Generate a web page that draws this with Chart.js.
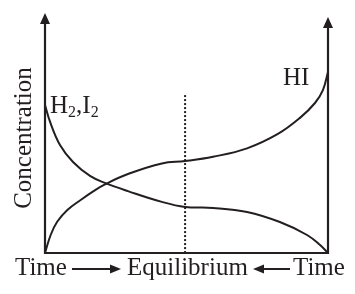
<!DOCTYPE html>
<html>
<head>
<meta charset="utf-8">
<script src="https://cdn.jsdelivr.net/npm/chart.js@4"></script>
<style>
  body { margin: 0; background: #fff; }
  canvas { display: block; }
</style>
</head>
<body>
<canvas id="grafico" width="355" height="294"></canvas>
<script>
// curva HI (producto), tiempo 0..100, concentracion 0..100
var hiTiempo = [0, 2.0, 4.3, 7.9, 12.6, 17.3, 21.2, 29.3, 41.3, 49.5, 59.4, 71.4, 82.3, 90.1, 95.4, 98.2, 100];
var hiConc = [0, 7.5, 13.0, 17.9, 22.1, 25.9, 28.6, 32.9, 37.3, 38.3, 40.1, 43.6, 49.6, 56.3, 62.5, 67.9, 75.4];

// curva H2,I2 (reactivos)
var reacTiempo = [0, 1.8, 5.3, 9.9, 15.9, 21.2, 29.3, 41.3, 49.5, 59.4, 71.4, 83.0, 92.6, 97.2, 100];
var reacConc = [61.7, 54.6, 45.0, 37.9, 32.1, 29.2, 25.8, 21.3, 19.2, 18.8, 17.1, 12.9, 7.5, 3.3, 0];

// linea punteada del equilibrio
var equilibrioTiempo = 49.5;
var equilibrioAlto = 65.8;

var etiquetas = { eje: 'Concentration', tiempo: 'Time', equilibrio: 'Equilibrium', hi: 'HI' };

var tinta = '#231f20';
var fuente = '"Liberation Serif", "Times New Roman", serif';

function puntos(xs, ys) {
    return xs.map(function (x, i) { return { x: x, y: ys[i] }; });
}

function flecha(ctx, x, y, dir) {
    // dir: 'up', 'right', 'left'
    ctx.beginPath();
    if (dir === 'up') {
        ctx.moveTo(x, y);
        ctx.lineTo(x - 5, y + 11);
        ctx.lineTo(x + 5, y + 11);
    } else if (dir === 'right') {
        ctx.moveTo(x, y);
        ctx.lineTo(x - 11, y - 4.5);
        ctx.lineTo(x - 11, y + 4.5);
    } else {
        ctx.moveTo(x, y);
        ctx.lineTo(x + 11, y - 4.5);
        ctx.lineTo(x + 11, y + 4.5);
    }
    ctx.closePath();
    ctx.fill();
}

var ejesPlugin = {
    id: 'ejes',
    afterDatasetsDraw: function (chart) {
        var ctx = chart.ctx;
        var xs = chart.scales.x, ys = chart.scales.y;
        var x0 = xs.getPixelForValue(0), x1 = xs.getPixelForValue(100);
        var y0 = ys.getPixelForValue(0);
        ctx.save();
        ctx.strokeStyle = tinta;
        ctx.fillStyle = tinta;
        ctx.lineWidth = 2.2;

        // eje izquierdo
        ctx.beginPath();
        ctx.moveTo(x0, y0 + 1);
        ctx.lineTo(x0, ys.getPixelForValue(100) + 8);
        ctx.stroke();
        flecha(ctx, x0, ys.getPixelForValue(100), 'up');

        // eje derecho
        ctx.beginPath();
        ctx.moveTo(x1, y0 + 1);
        ctx.lineTo(x1, ys.getPixelForValue(98.3) + 8);
        ctx.stroke();
        flecha(ctx, x1, ys.getPixelForValue(98.3), 'up');

        // eje inferior
        ctx.beginPath();
        ctx.moveTo(x0, y0);
        ctx.lineTo(x1, y0);
        ctx.stroke();

        // textos
        ctx.textBaseline = 'alphabetic';
        ctx.font = '25px ' + fuente;
        var base = y0 + 22;
        ctx.textAlign = 'left';
        ctx.fillText(etiquetas.tiempo, 15, base);
        ctx.fillText(etiquetas.equilibrio, 127, base);
        ctx.fillText(etiquetas.tiempo, 293, base);

        // flechas del texto inferior
        ctx.lineWidth = 2;
        ctx.beginPath();
        ctx.moveTo(72, base - 6);
        ctx.lineTo(112, base - 6);
        ctx.stroke();
        flecha(ctx, 121, base - 6, 'right');
        ctx.beginPath();
        ctx.moveTo(262, base - 6);
        ctx.lineTo(290, base - 6);
        ctx.stroke();
        flecha(ctx, 253, base - 6, 'left');

        // Concentration (vertical)
        ctx.save();
        ctx.translate(31, 138);
        ctx.rotate(-Math.PI / 2);
        ctx.textAlign = 'center';
        ctx.font = '25px ' + fuente;
        ctx.fillText(etiquetas.eje, 0, 0);
        ctx.restore();

        // H2,I2
        var px = 50, py = 113;
        ctx.textAlign = 'left';
        ctx.font = '25px ' + fuente;
        ctx.fillText('H', px, py); px += ctx.measureText('H').width;
        ctx.font = '16px ' + fuente;
        ctx.fillText('2', px, py + 4); px += ctx.measureText('2').width;
        ctx.font = '25px ' + fuente;
        ctx.fillText(',', px, py); px += ctx.measureText(',').width;
        ctx.fillText('I', px, py); px += ctx.measureText('I').width;
        ctx.font = '16px ' + fuente;
        ctx.fillText('2', px, py + 4);

        // HI
        ctx.font = '25px ' + fuente;
        ctx.fillText(etiquetas.hi, 283, 85);
        ctx.restore();
    }
};

var grafico = new Chart(document.getElementById('grafico'), {
    type: 'scatter',
    data: {
        datasets: [{
            label: 'H2,I2',
            data: puntos(reacTiempo, reacConc),
            showLine: true,
            borderColor: tinta,
            borderWidth: 2,
            pointRadius: 0,
            tension: 0.4,
            clip: false
        }, {
            label: 'HI',
            data: puntos(hiTiempo, hiConc),
            showLine: true,
            borderColor: tinta,
            borderWidth: 2,
            pointRadius: 0,
            tension: 0.4,
            clip: false
        }, {
            label: 'Equilibrium',
            data: [{ x: equilibrioTiempo, y: equilibrioAlto }, { x: equilibrioTiempo, y: 0 }],
            showLine: true,
            borderColor: tinta,
            borderWidth: 2,
            borderDash: [2, 2],
            pointRadius: 0,
            clip: false
        }]
    },
    options: {
        responsive: false,
        animation: false,
        layout: { padding: { left: 45, right: 27, top: 13, bottom: 41 } },
        plugins: { legend: { display: false }, tooltip: { enabled: false } },
        scales: {
            x: { type: 'linear', min: 0, max: 100, display: false },
            y: { min: 0, max: 100, display: false }
        }
    },
    plugins: [ejesPlugin]
});
</script>
</body>
</html>
